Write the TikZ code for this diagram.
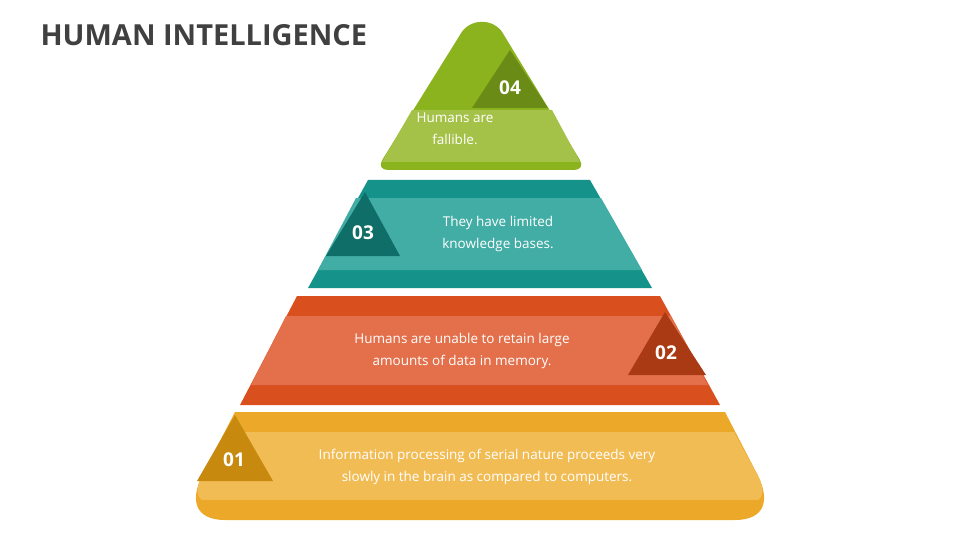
\documentclass[tikz,border=0pt]{standalone}
\usepackage{fontspec}
\setmainfont{Open Sans}
\begin{document}
\begin{tikzpicture}[x=1pt,y=-1pt,
  lbl/.style={text=white,font=\fontsize{13.5}{21.5}\selectfont,align=center},
  num/.style={text=white,font=\fontsize{19}{22}\selectfont\bfseries}]
\useasboundingbox (0,0) rectangle (960,540);
\definecolor{g1}{HTML}{8AB31D}\definecolor{g2}{HTML}{A5C248}\definecolor{g3}{HTML}{6A8B16}
\definecolor{t1}{HTML}{15938A}\definecolor{t2}{HTML}{42ADA5}\definecolor{t3}{HTML}{0F6E67}
\definecolor{o1}{HTML}{D94F1E}\definecolor{o2}{HTML}{E3704B}\definecolor{o3}{HTML}{A93A13}
\definecolor{y1}{HTML}{ECA828}\definecolor{y2}{HTML}{F2BC55}\definecolor{y3}{HTML}{C88A0E}
\node[anchor=west,text=black!75,font=\fontsize{29}{32}\selectfont\bfseries] (title) at (37,35) {HUMAN INTELLIGENCE};
% layer 4
\fill[g1,rounded corners=12pt] (376,170) -- (468,22) -- (496,22) -- (586,170) -- cycle;
\fill[g2] (412,110) -- (552,110) -- (580,162) -- (382,162) -- cycle;
\fill[g3] (472,108) -- (548,108) -- (510,50) -- cycle;
\node[num] (n4) at (510,88) {04};
\node[lbl] (l4) at (455,129) {Humans are\\fallible.};
% layer 3
\fill[t1] (368,180) -- (590,180) -- (652,288) -- (308,288) -- cycle;
\fill[t2] (356,198) -- (601,198) -- (642,270) -- (318,270) -- cycle;
\fill[t3] (365,192) -- (400,256) -- (326,256) -- cycle;
\node[num] (n3) at (363,233) {03};
\node[lbl] (l3) at (498,234) {They have limited\\knowledge bases.};
% layer 2
\fill[o1] (297,296) -- (660,296) -- (720,405) -- (240,405) -- cycle;
\fill[o2] (286,316) -- (671,316) -- (708,385) -- (251,385) -- cycle;
\fill[o3] (665,312) -- (706,375) -- (628,375) -- cycle;
\node[num] (n2) at (666,353) {02};
\node[lbl] (l2) at (462,351) {Humans are unable to retain large\\amounts of data in memory.};
% layer 1
\fill[y1] (235,412) -- (725,412) -- (755,470) .. controls (772,500) and (765,520) .. (735,520) -- (225,520) .. controls (195,520) and (188,500) .. (205,470) -- cycle;
\fill[y2] (226,432) -- (734,432) -- (760,480) .. controls (764,490) and (763,497) .. (758,500) -- (202,500) .. controls (197,497) and (196,490) .. (200,480) -- cycle;
\fill[y3] (235,415) -- (273,481) -- (197,481) -- cycle;
\node[num] (n1) at (234,460) {01};
\node[lbl] (l1) at (487,467) {Information processing of serial nature proceeds very\\slowly in the brain as compared to computers.};
\end{tikzpicture}
\end{document}
